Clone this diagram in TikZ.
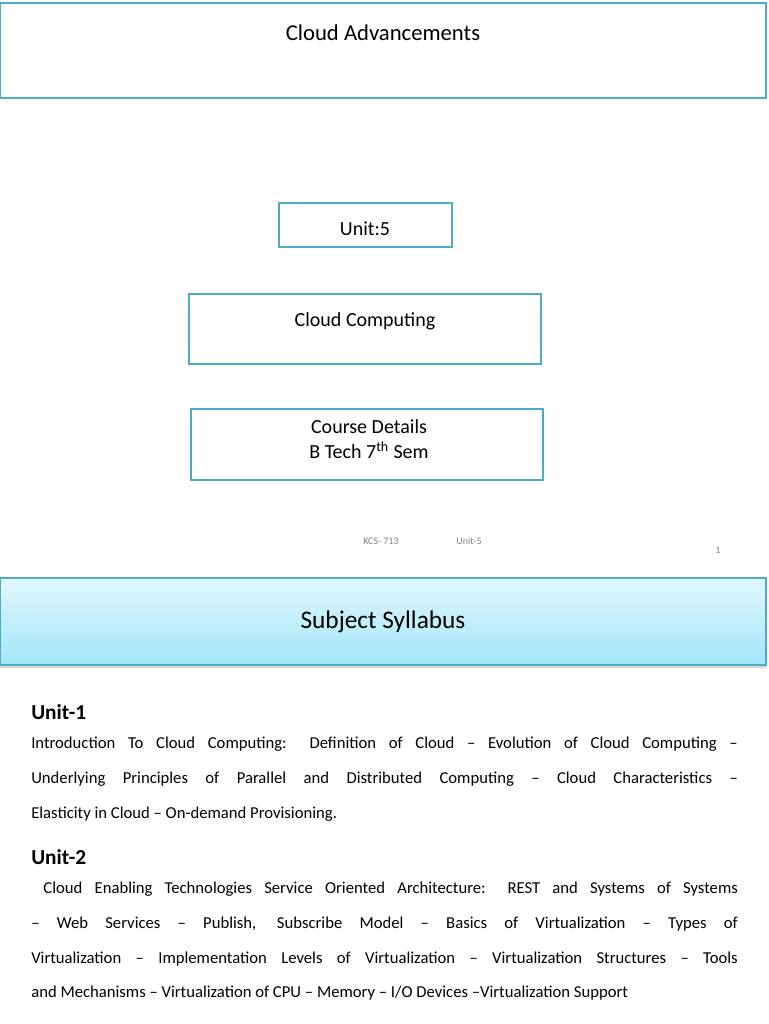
\documentclass[tikz,border=0pt]{standalone}
\usepackage{fontspec}
\setmainfont{Carlito}
\usetikzlibrary{positioning,shadows}
\definecolor{boxblue}{HTML}{4BACC6}
\definecolor{bandtop}{HTML}{E2F7FD}
\definecolor{bandbot}{HTML}{A2E6FA}
\tikzset{
  slidebox/.style={draw=boxblue,line width=1pt,inner sep=0pt},
  bodytext/.style={anchor=north west,text width=530pt,align=justify,inner sep=0pt,
    font=\fontsize{12.5}{26}\selectfont},
  unithead/.style={anchor=west,inner sep=0pt,font=\fontsize{16}{18}\selectfont\bfseries},
  footnote/.style={text=gray,font=\fontsize{7.5}{8}\selectfont,inner sep=0pt}
}
\begin{document}
\begin{tikzpicture}[x=0.75pt,y=-0.75pt]
  \useasboundingbox (0,0) rectangle (768,1024);
  % title slide
  \draw[slidebox] (0,3) rectangle (766,98);
  \node[font=\fontsize{17}{20}\selectfont] (title) at (383,33) {Cloud Advancements};
  \draw[slidebox] (279,203) rectangle (452,247);
  \node[font=\fontsize{15}{18}\selectfont] (unit) at (365,229) {Unit:5};
  \draw[slidebox] (189,294) rectangle (541,364);
  \node[font=\fontsize{15}{18}\selectfont] (course) at (365,321) {Cloud Computing};
  \draw[slidebox] (191,409) rectangle (543,480);
  \node[font=\fontsize{15}{19}\selectfont,align=center] (details) at (369,439)
    {Course Details\\B Tech 7\textsuperscript{th} Sem};
  \node[footnote] (code) at (381,541) {KCS- 713};
  \node[footnote] (unitno) at (469,541) {Unit-5};
  \node[footnote] (page) at (718,550) {1};
  % syllabus slide
  \shade[top color=bandtop,bottom color=bandbot,drop shadow={opacity=0.3,shadow xshift=0pt,shadow yshift=-2pt}]
    (0,578) rectangle (766,665);
  \draw[boxblue,line width=0.8pt] (0,578) rectangle (766,665);
  \node[font=\fontsize{19}{22}\selectfont] (syllabus) at (383,622) {Subject Syllabus};
  \node[unithead] (u1) at (31,712) {Unit-1};
  \node[bodytext] (t1) at (31,737) {Introduction To Cloud Computing: Definition of Cloud -- Evolution of Cloud Computing --\linebreak Underlying Principles of Parallel and Distributed Computing -- Cloud Characteristics --\linebreak Elasticity in Cloud -- On-demand Provisioning.};
  \node[unithead] (u2) at (31,857) {Unit-2};
  \node[bodytext] (t2) at (31,882) {\ Cloud Enabling Technologies Service Oriented Architecture: REST and Systems of Systems\linebreak -- Web Services -- Publish, Subscribe Model -- Basics of Virtualization -- Types of\linebreak Virtualization -- Implementation Levels of Virtualization -- Virtualization Structures -- Tools\linebreak and Mechanisms -- Virtualization of CPU -- Memory -- I/O Devices --Virtualization Support\parfillskip=0pt\relax};
\end{tikzpicture}
\end{document}
